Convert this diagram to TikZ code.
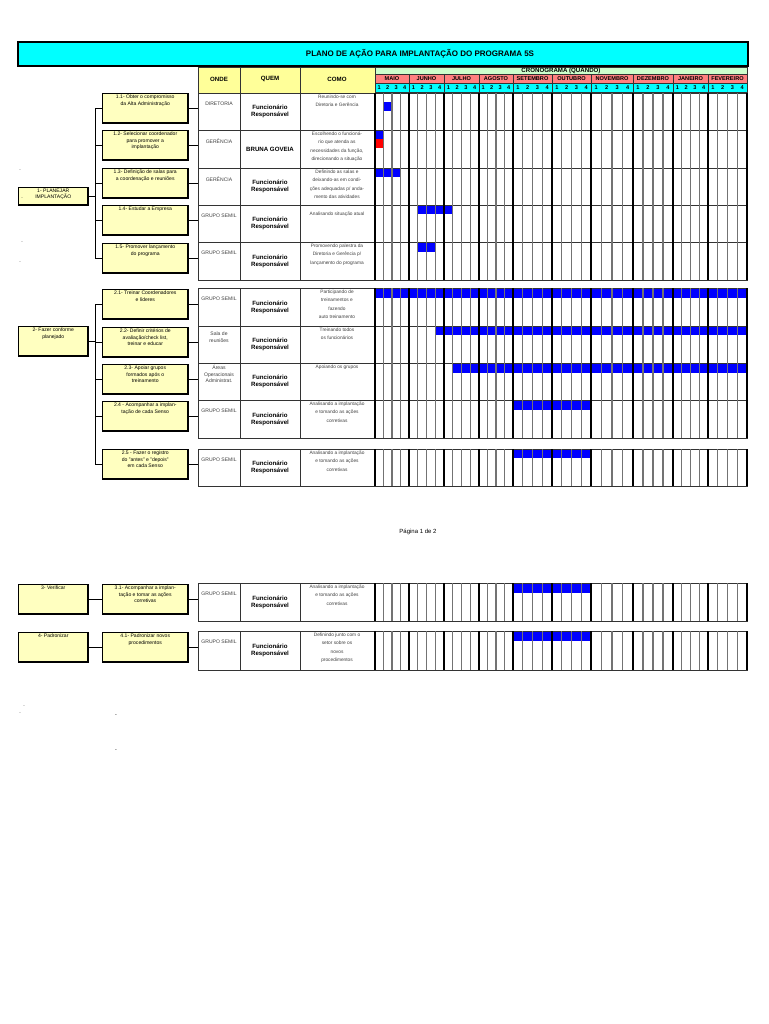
\documentclass[tikz,border=0pt]{standalone}
\usepackage{fontspec}
\setmainfont{Liberation Sans}
\usetikzlibrary{positioning}
\definecolor{titlecyan}{HTML}{00FFFF}
\definecolor{headyellow}{HTML}{FFFF99}
\definecolor{boxyellow}{HTML}{FFFFC0}
\definecolor{cronogreen}{HTML}{CCFFCC}
\definecolor{monthred}{HTML}{FF8080}
\definecolor{barblue}{HTML}{0000FF}

\tikzset{
  cellline/.style={draw=black!80, line width=0.5pt},
  weekline/.style={draw=black!55, line width=0.9pt},
  monthline/.style={draw=black, line width=1pt},
  task/.style={draw, line width=0.9pt, fill=boxyellow, anchor=north west, inner sep=1pt,
    font=\fontsize{3.8}{4.8}\selectfont},
  ondetext/.style={font=\fontsize{3.8}{4.8}\selectfont\color{black!75}, align=center, inner sep=0pt},
  quemtext/.style={font=\fontsize{4.6}{5.4}\selectfont\bfseries, align=center, inner sep=0pt},
  comotext/.style={font=\fontsize{3.6}{6.4}\selectfont\color{black!75}, align=center, inner sep=1pt},
  headtext/.style={font=\fontsize{4.6}{5}\selectfont\bfseries, inner sep=0pt},
  bar/.style={fill=barblue, draw=none},
}

% text of a task box, set from the top
\newcommand\boxtext[3]{\parbox[c][#1pt][t]{#2pt}{\centering #3}}

% gantt grid between two rows
\newcommand\ganttgrid[2]{%
  \foreach \a/\b in {375/409,409/444,444/479,479/513,513/552,552/591,591/633,633/673,673/708,708/747}{
    \foreach \k in {1,2,3}
    \draw[weekline] ({\a+\k*(\b-\a)/4},#1) -- ({\a+\k*(\b-\a)/4},#2);
    \draw[monthline] (\a,#1) -- (\a,#2);
  }
  \draw[monthline] (747,#1) -- (747,#2);}

% one row of the table
\newcommand\planrow[6]{%
  \draw[cellline] (198,#2) rectangle (747,#3);
  \foreach \cx in {240,300,375}
  \draw[cellline] (\cx,#2) -- (\cx,#3);
  \coordinate (#1-in) at (198,{#2+14});
  \node[ondetext] (#1-onde) at (219,{#2+11}) {#4};
  \node[quemtext] (#1-quem) at (270,{(#2+#3)/2}) {#5};
  \node[comotext, anchor=north] (#1-como) at (337,#2) {#6};
  \ganttgrid{#2}{#3}}

\begin{document}
\begin{tikzpicture}[x=0.75pt, y=-0.75pt]
  \useasboundingbox[fill=white] (0,0) rectangle (768,1024);

  % title and header
  \draw[fill=titlecyan, line width=1pt] (18,42) rectangle (748,66);
  \node[font=\fontsize{6}{7}\selectfont\bfseries] (title) at (420,54) {PLANO DE AÇÃO PARA IMPLANTAÇÃO DO PROGRAMA 5S};
  \draw[fill=headyellow, cellline] (198,67) rectangle (375,93);
  \foreach \cx in {240,300} \draw[cellline] (\cx,67) -- (\cx,93);
  \node[headtext] (onde) at (219,79) {ONDE};
  \node[headtext] (quem) at (270,79) {QUEM};
  \node[headtext] (como) at (337,79) {COMO};
  \draw[fill=cronogreen, cellline] (375,67) rectangle (747,74);
  \node[headtext] (crono) at (561,70.5) {CRONOGRAMA (QUANDO)};
  \draw[fill=monthred, cellline] (375,74) rectangle (747,83);
  \draw[fill=titlecyan, cellline] (375,83) rectangle (747,92);
  \foreach \a/\b/\m in {375/409/MAIO,409/444/JUNHO,444/479/JULHO,479/513/AGOSTO,513/552/SETEMBRO,
      552/591/OUTUBRO,591/633/NOVEMBRO,633/673/DEZEMBRO,673/708/JANEIRO,708/747/FEVEREIRO}{
    \draw[cellline] (\a,74) -- (\a,92);
    \node[headtext, font=\fontsize{4.2}{5}\selectfont\bfseries] (m-\m) at ({(\a+\b)/2},78.5) {\m};
    \foreach \k in {1,...,4}
    \node[headtext, font=\fontsize{4.2}{5}\selectfont\bfseries] (w-\m-\k) at ({\a+(\k-0.5)*(\b-\a)/4},87.5) {\k};
  }

  % bars
  \fill[bar] (384,102) rectangle (392,111);
  \fill[bar] (375,130) rectangle (383,139);
  \fill[red] (375,139) rectangle (383,148);
  \fill[bar] (375,168) rectangle (401,177);
  \fill[bar] (418,205) rectangle (452,214);
  \fill[bar] (418,243) rectangle (435,252);
  \fill[bar] (375,289) rectangle (747,298);
  \fill[bar] (435,326) rectangle (747,335);
  \fill[bar] (452,364) rectangle (747,373);
  \foreach \t in {401,449,584,632}
  \fill[bar] (513,\t) rectangle (591,\t+9);

  % rows
  \planrow{r11}{93}{130}{DIRETORIA}{Funcionário\\Responsável}{Reunindo-se com\\Diretoria e Gerência}
  \planrow{r12}{130}{168}{GERÊNCIA}{BRUNA GOVEIA}{Escolhendo o funcioná-\\rio que atenda as\\necessidades da função,\\direcionando a situação}
  \planrow{r13}{168}{205}{GERÊNCIA}{Funcionário\\Responsável}{Definindo as salas e\\deixando-as em condi-\\ções adequadas p/ anda-\\mento das atividades}
  \planrow{r14}{205}{242}{GRUPO SEMIL}{Funcionário\\Responsável}{\\Analisando situação atual}
  \planrow{r15}{242}{280}{GRUPO SEMIL}{Funcionário\\Responsável}{Promovendo palestra da\\Diretoria e Gerência p/\\lançamento do programa}
  \planrow{r21}{288}{326}{GRUPO SEMIL}{Funcionário\\Responsável}{Participando de\\treinamentos e\\fazendo\\auto treinamento}
  \planrow{r22}{326}{363}{Sala de\\reuniões}{Funcionário\\Responsável}{Treinando todos\\os funcionários}
  \planrow{r23}{363}{400}{Áreas\\Operacionais\\Administrat.}{Funcionário\\Responsável}{Apoiando os grupos}
  \planrow{r24}{400}{438}{GRUPO SEMIL}{Funcionário\\Responsável}{Analisando a implantação\\e tomando as ações\\corretivas}
  \planrow{r25}{449}{486}{GRUPO SEMIL}{Funcionário\\Responsável}{Analisando a implantação\\e tomando as ações\\corretivas}
  \planrow{r31}{583}{621}{GRUPO SEMIL}{Funcionário\\Responsável}{Analisando a implantação\\e tomando as ações\\corretivas}
  \planrow{r41}{631}{670}{GRUPO SEMIL}{Funcionário\\Responsável}{Definindo junto com o\\setor sobre os\\novos\\procedimentos}

  % task boxes
  \node[task] (p1) at (18,187) {\boxtext{11}{50}{1- PLANEJAR\\IMPLANTAÇÃO}};
  \node[task] (p2) at (18,326) {\boxtext{20}{50}{2- Fazer conforme\\planejado}};
  \node[task] (p3) at (18,584) {\boxtext{20}{50}{3- Verificar}};
  \node[task] (p4) at (18,632) {\boxtext{20}{50}{4- Padronizar}};
  \node[task] (t11) at (102,93) {\boxtext{20}{62}{1.1- Obter o compromisso\\da Alta Administração}};
  \node[task] (t12) at (102,130) {\boxtext{20}{62}{1.2- Selecionar coordenador\\para promover a\\implantação}};
  \node[task] (t13) at (102,168) {\boxtext{20}{62}{1.3- Definição de salas para\\a coordenação e reuniões}};
  \node[task] (t14) at (102,205) {\boxtext{20}{62}{1.4- Estudar a Empresa}};
  \node[task] (t15) at (102,243) {\boxtext{20}{62}{1.5- Promover lançamento\\do programa}};
  \node[task] (t21) at (102,289) {\boxtext{20}{62}{2.1- Treinar Coordenadores\\e líderes}};
  \node[task] (t22) at (102,327) {\boxtext{20}{62}{2.2- Definir critérios de\\avaliação/check list,\\treinar e educar}};
  \node[task] (t23) at (102,364) {\boxtext{20}{62}{2.3- Apoiar grupos\\formados após o\\treinamento}};
  \node[task] (t24) at (102,401) {\boxtext{20}{62}{2.4 - Acompanhar a implan-\\tação de cada Senso}};
  \node[task] (t25) at (102,449) {\boxtext{20}{62}{2.5 - Fazer o registro\\do "antes" e "depois"\\em cada Senso}};
  \node[task] (t31) at (102,584) {\boxtext{20}{62}{3.1- Acompanhar a implan-\\tação e tomar as ações\\corretivas}};
  \node[task] (t41) at (102,632) {\boxtext{20}{62}{4.1- Padronizar novos\\procedimentos}};

  % connectors
  \foreach \c in {t11,t12,t13,t14,t15}
  \draw[line width=0.7pt] (p1.east) -- ++(7,0) |- (\c.west);
  \foreach \c in {t21,t22,t23,t24,t25}
  \draw[line width=0.7pt] (p2.east) -- ++(7,0) |- (\c.west);
  \draw[line width=0.7pt] (p3.east) -- (t31.west);
  \draw[line width=0.7pt] (p4.east) -- (t41.west);
  \foreach \c/\r in {t11/r11,t12/r12,t13/r13,t14/r14,t15/r15,t21/r21,t22/r22,t23/r23,t24/r24,t25/r25,t31/r31,t41/r41}
  \draw[line width=0.7pt] (\c.east) -- (\c.east -| \r-in);

  % page text and stray marks
  \node[font=\fontsize{4.5}{5}\selectfont] (page) at (418,532) {Página 1 de 2};
  \foreach \px/\py [count=\i] in {20/170,22/198,22/242,20/262,24/706,20/713}
  \node[font=\fontsize{4}{4}\selectfont, inner sep=0pt] (dot-\i) at (\px,\py) {.};
  \foreach \py [count=\i] in {716,751}
  \node[font=\fontsize{4}{4}\selectfont, inner sep=0pt] (dash-\i) at (116,\py) {-};
\end{tikzpicture}
\end{document}
